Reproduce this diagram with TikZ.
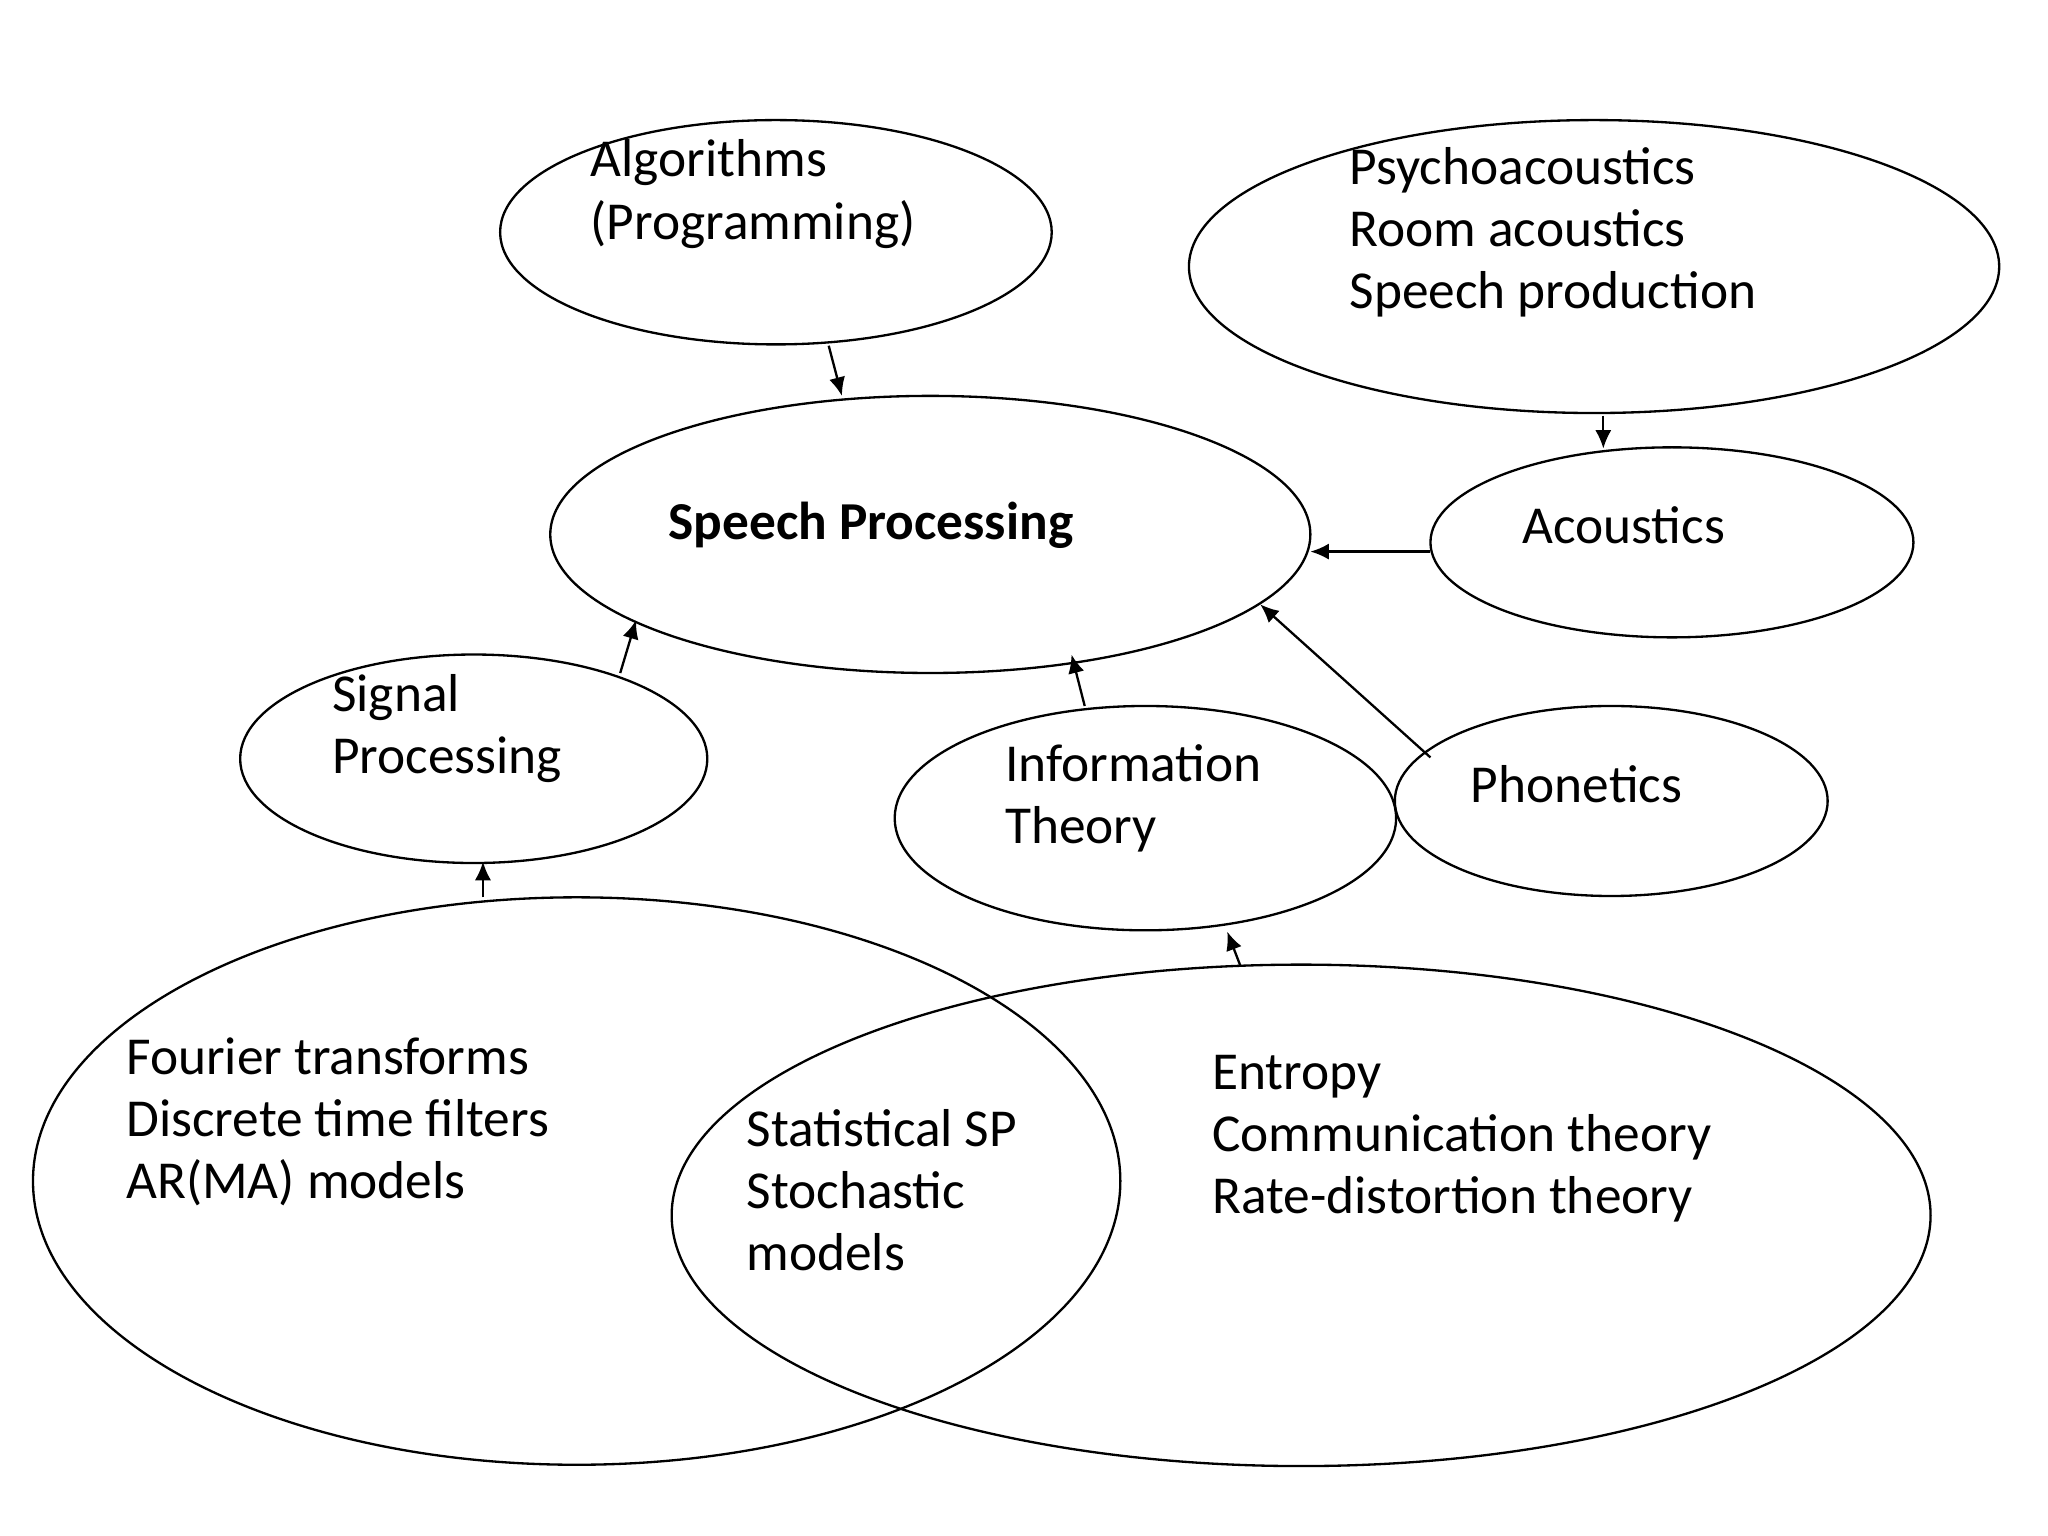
\documentclass[tikz,border=0pt]{standalone}
\usepackage{fontspec}
\setmainfont{Carlito}
\usetikzlibrary{shapes.geometric,arrows.meta}
\begin{document}
\begin{tikzpicture}[x=0.01cm,y=-0.01cm,
  ell/.style={draw,line width=0.5pt},
  txt/.style={anchor=west,align=left,inner sep=0pt,font=\fontsize{11.5}{13.4}\selectfont},
  arr/.style={-{Latex[length=4pt,width=3.5pt]},line width=0.5pt}]
\useasboundingbox (0,0) rectangle (1552,1164);
\draw[ell] (588,176) ellipse [x radius=209,y radius=85];
\draw[ell] (1208,202) ellipse [x radius=307,y radius=111];
\draw[ell] (705,405) ellipse [x radius=288,y radius=105];
\draw[ell] (1267,411) ellipse [x radius=183,y radius=72];
\draw[ell] (359,575) ellipse [x radius=177,y radius=79];
\draw[ell] (868,620) ellipse [x radius=190,y radius=85];
\draw[ell] (1221,607) ellipse [x radius=164,y radius=72];
\draw[ell] (437,895) ellipse [x radius=412,y radius=215];
\draw[ell] (986,921) ellipse [x radius=477,y radius=190];
\node[txt] (alg) at (447,147) {Algorithms\\(Programming)};
\node[txt] (psy) at (1022,176) {Psychoacoustics\\Room acoustics\\Speech production};
\node[txt,anchor=center,font=\fontsize{11.5}{13.4}\selectfont\bfseries] (sp) at (660,398) {Speech Processing};
\node[txt] (ac) at (1153,398) {Acoustics};
\node[txt] (sig) at (251,552) {Signal\\Processing};
\node[txt] (inf) at (761,605) {Information\\Theory};
\node[txt] (ph) at (1114,594) {Phonetics};
\node[txt] (fou) at (95,850) {Fourier transforms\\Discrete time filters\\AR(MA) models};
\node[txt] (ent) at (918,863) {Entropy\\Communication theory\\Rate-distortion theory};
\node[txt] (stat) at (565,902) {Statistical SP\\Stochastic\\models};
\coordinate (a1) at (628,262); \coordinate (a2) at (638,300);
\coordinate (b1) at (1215,315); \coordinate (b2) at (1215,340);
\coordinate (c1) at (1084,418); \coordinate (c2) at (993,418);
\coordinate (d1) at (1084,574); \coordinate (d2) at (955,458);
\coordinate (e1) at (822,535); \coordinate (e2) at (812,496);
\coordinate (f1) at (470,510); \coordinate (f2) at (482,470);
\coordinate (g1) at (366,680); \coordinate (g2) at (366,653);
\coordinate (h1) at (940,732); \coordinate (h2) at (930,706);
\foreach \s/\t in {a1/a2,b1/b2,c1/c2,d1/d2,e1/e2,f1/f2,g1/g2,h1/h2}
  \draw[arr] (\s) -- (\t);
\end{tikzpicture}
\end{document}
